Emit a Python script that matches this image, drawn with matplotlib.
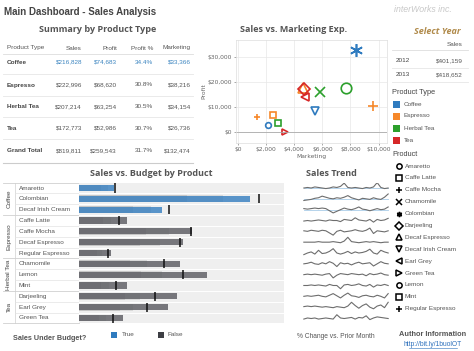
import numpy as np
import matplotlib
matplotlib.use('Agg')
import matplotlib.pyplot as plt
from matplotlib.ticker import FuncFormatter

W, H = 474, 351

# summary table
product_types = ['Coffee', 'Espresso', 'Herbal Tea', 'Tea']
type_sales = [216828, 222996, 207214, 172773]
type_profit = [74683, 68620, 63254, 52986]
type_profit_pct = [34.4, 30.8, 30.5, 30.7]
type_marketing = [33366, 38216, 34154, 26736]
total_row = [819811, 259543, 31.7, 132474]

years = ['2012', '2013']
year_sales = [401159, 418652]

products = ['Amaretto', 'Colombian', 'Decaf Irish Cream', 'Caffe Latte', 'Caffe Mocha',
            'Decaf Espresso', 'Regular Espresso', 'Chamomile', 'Lemon', 'Mint',
            'Darjeeling', 'Earl Grey', 'Green Tea']
product_group = ['Coffee'] * 3 + ['Espresso'] * 4 + ['Herbal Tea'] * 3 + ['Tea'] * 3
sales = [26269, 128311, 62248, 35642, 84904, 78162, 24288, 75578, 95926, 35710,
         73151, 66772, 32850]
budget = [27000, 135000, 67500, 30000, 84000, 76000, 22000, 64000, 78000, 28000,
          57000, 51000, 25500]

# scatter (marketing, profit)
marketing = [2115, 8414, 5448, 2506, 9586, 4620, 1310, 5862, 7655, 2850, 4690, 4760, 3310]
profit = [2800, 32800, 8400, 6800, 10400, 17600, 5870, 16000, 17700, 3700, 17200, 14100, -100]

# sales trend, % change vs prior month (rough reading)
trend = [
    [0, .1, 0, .2, .1, 0, -.1, 0, .2, .1, .3, .9, .1, 0, .1, 0, -.1, .1, 0, .2, 1., .1, -.1, 0],
    [-.3, -.2, -.1, .1, .2, .5, .3, .1, 0, .2, .1, .3, .6, .2, 0, -.2, .1, 0, -.1, .2, 0, -.1, .3, .9],
    [.2, .1, .2, .3, .2, .3, .2, -.2, -.6, -.3, 0, .3, .1, 0, .2, .5, .1, 0, -.2, 0, .2, 0, .1, .5],
    [-.1, 0, -.1, 0, .1, 0, -.1, .1, 0, 0, -.2, .2, .1, 0, .5, .1, 0, -.1, .2, -.3, .2, 0, .1, .4],
    [.1, 0, .2, .1, 0, .2, .1, -.3, -.7, 0, .2, -.1, 0, .1, .3, .1, 0, .2, .6, -.4, .1, 0, -.1, .1],
    [0, 0, 0, 0, .1, 0, 0, 0, .1, 0, -.1, .2, .9, .1, 0, -.1, 0, .1, 0, .1, 0, -.1, 0, 0],
    [-.3, 0, .2, -.2, .5, -.1, 0, .3, .8, 0, -.2, 0, .3, -.1, .2, 0, .1, .3, .7, 0, -.2, .5, .2, 0],
    [0, .1, .3, 0, -.1, .2, 0, .4, .1, -.5, .2, 0, .1, -.2, .1, .3, 0, .1, .2, -.4, 0, .4, .1, 0],
    [0, .1, 0, .1, 0, -.1, .1, .2, -.6, -.1, .2, .1, 0, .2, .1, 0, .1, -.2, .2, 0, .1, .3, 0, -.1],
    [0, 0, .1, 0, .1, 0, -.1, .2, 0, 0, -.6, .1, .2, 0, .1, .3, 0, -.1, .2, -.3, .1, 0, .2, 0],
    [0, .1, 0, .1, .2, 0, -.1, .2, .5, .1, -.3, .2, .6, .1, 0, -.2, .1, .2, 0, -.1, .2, 0, -.3, .5],
    [.1, .2, .1, .2, .1, 0, .1, 0, -.1, .1, 0, -.1, .2, .9, .3, -.2, .3, .6, 0, -.3, .2, .4, -.1, .9],
    [-.2, 0, -.1, 0, -.2, -.1, 0, -.1, -.2, .6, 0, -.1, 0, .1, -.2, .1, 0, .4, -.3, 0, .2, .1, 0, -.1],
]

type_colors = {'Coffee': '#2f7bbf', 'Espresso': '#f6882a', 'Herbal Tea': '#2ca02c', 'Tea': '#d62728'}
shapes = {'Amaretto': 'o', 'Caffe Latte': 's', 'Caffe Mocha': '+', 'Chamomile': 'x',
          'Colombian': (6, 2, 0), 'Darjeeling': 'D', 'Decaf Espresso': '^',
          'Decaf Irish Cream': 'v', 'Earl Grey': '<', 'Green Tea': '>', 'Lemon': 'o',
          'Mint': 's', 'Regular Espresso': '+'}

FONT = 'Liberation Sans'
TFONT = 'Open Sans'
GREY = '#555555'


def money(v):
    return '${:,.0f}'.format(v)


def px_axes(fig, x, y, w, h):
    return fig.add_axes([x / W, 1 - (y + h) / H, w / W, h / H])


fig = plt.figure(figsize=(W / 100, H / 100), dpi=100)
fig.patch.set_facecolor('white')

ov = fig.add_axes([0, 0, 1, 1])
ov.set_xlim(0, W)
ov.set_ylim(H, 0)
ov.axis('off')

# titles
ov.text(4, 12, 'Main Dashboard - Sales Analysis', fontsize=7, fontweight='bold',
        color='#444444', family=FONT, va='center')
ov.text(98, 30, 'Summary by Product Type', fontsize=6.5, fontweight='bold',
        color=GREY, family=TFONT, ha='center', va='center')
ov.text(240, 30, 'Sales vs. Marketing Exp.', fontsize=6.5, fontweight='bold',
        color=GREY, family=TFONT, va='center')
ov.text(151, 173, 'Sales vs. Budget by Product', fontsize=6.5, fontweight='bold',
        color=GREY, family=TFONT, ha='center', va='center')
ov.text(331, 173, 'Sales Trend', fontsize=6.5, fontweight='bold',
        color=GREY, family=TFONT, ha='center', va='center')
ov.text(423, 10, 'interWorks inc.', fontsize=6.3, style='italic', color='#c8c8c8',
        family=FONT, ha='center', va='center')

# summary table
col_right = [82, 117, 153, 191]
headers = ['Sales', 'Profit', 'Profit %', 'Marketing']
ov.text(7, 48, 'Product Type', fontsize=4.6, color=GREY, family=FONT, va='center')
for xr, hd in zip(col_right, headers):
    ov.text(xr, 48, hd, fontsize=4.6, color=GREY, family=FONT, ha='right', va='center')
row_y = [62, 85, 107, 128]
for yy in [74, 96, 117, 139]:
    ov.plot([3, 193], [yy, yy], color='#e6e6e6', lw=0.6)
ov.plot([3, 193], [54, 54], color='#dddddd', lw=0.6)
ov.plot([3, 193], [163, 163], color='#cccccc', lw=0.8)
for i, pt in enumerate(product_types):
    c = '#3c85c0' if pt == 'Coffee' else GREY
    vals = [money(type_sales[i]), money(type_profit[i]), '{:.1f}%'.format(type_profit_pct[i]),
            money(type_marketing[i])]
    ov.text(7, row_y[i], pt, fontsize=4.6, color='#444444', family=FONT,
            fontweight='bold', va='center')
    for xr, v in zip(col_right, vals):
        ov.text(xr, row_y[i], v, fontsize=4.6, color=c, family=FONT, ha='right', va='center')
tot = [money(total_row[0]), money(total_row[1]), '{:.1f}%'.format(total_row[2]), money(total_row[3])]
ov.text(7, 151, 'Grand Total', fontsize=4.6, color='#444444', family=FONT,
        fontweight='bold', va='center')
for xr, v in zip(col_right, tot):
    ov.text(xr, 151, v, fontsize=4.6, color=GREY, family=FONT, ha='right', va='center')

# scatter
ax = px_axes(fig, 236, 40, 151, 103)
for i, p in enumerate(products):
    col = type_colors[product_group[i]]
    ms = 2.8 + sales[i] / 20000
    ax.plot(marketing[i], profit[i], marker=shapes[p], linestyle='none', markersize=ms,
            markerfacecolor='none', markeredgecolor=col, markeredgewidth=1.2, color=col)
ax.set_xlim(-150, 10600)
ax.set_ylim(-4400, 36800)
ax.set_xticks([0, 2000, 4000, 6000, 8000, 10000])
ax.set_yticks([0, 10000, 20000, 30000])
ax.xaxis.set_major_formatter(FuncFormatter(lambda v, p: money(v)))
ax.yaxis.set_major_formatter(FuncFormatter(lambda v, p: money(v)))
ax.tick_params(labelsize=4.3, colors='#666666', length=1.5, width=0.4, pad=1.5)
ax.grid(color='#e8e8e8', lw=0.5)
ax.axhline(0, color='#aaaaaa', lw=0.6)
ax.set_axisbelow(True)
for s in ax.spines.values():
    s.set_color('#dddddd')
    s.set_linewidth(0.5)
ax.set_xlabel('Marketing', fontsize=4.3, color='#666666', labelpad=1)
ax.set_ylabel('Profit', fontsize=4.3, color='#666666', labelpad=1)

# right panel
ov.text(437, 31, 'Select Year', fontsize=6.5, fontweight='bold', style='italic',
        color='#b08a4a', family=TFONT, ha='center', va='center')
ov.text(463, 44, 'Sales', fontsize=4.6, color=GREY, family=FONT, ha='right', va='center')
ov.plot([392, 468], [50, 50], color='#dddddd', lw=0.6)
ov.plot([392, 468], [68, 68], color='#e6e6e6', lw=0.6)
ov.plot([392, 468], [82, 82], color='#e6e6e6', lw=0.6)
for yy, yr, sv in zip([61, 75], years, year_sales):
    ov.text(396, yy, yr, fontsize=4.6, color='#444444', family=FONT, va='center')
    ov.text(463, yy, money(sv), fontsize=4.6, color=GREY, family=FONT, ha='right', va='center')

ov.text(392, 92, 'Product Type', fontsize=5.3, color='#444444', family=FONT, va='center')
for k, pt in enumerate(product_types):
    yy = 104 + k * 12
    ov.add_patch(plt.Rectangle((393, yy - 3.5), 7, 7, color=type_colors[pt], lw=0))
    ov.text(404, yy, pt, fontsize=4.6, color='#555555', family=FONT, va='center')

ov.text(392, 155, 'Product', fontsize=5.3, color='#444444', family=FONT, va='center')
for k, p in enumerate(sorted(products)):
    yy = 166 + k * 11.9
    ov.plot(399, yy, marker=shapes[p], markersize=3.8, markerfacecolor='none',
            markeredgecolor='black', markeredgewidth=1.1, color='black', linestyle='none')
    ov.text(405, yy, p, fontsize=4.6, color='#555555', family=FONT, va='center')

ov.text(433, 334, 'Author Information', fontsize=5.3, fontweight='bold', color=GREY,
        family=FONT, ha='center', va='center')
ov.text(433, 344, 'http://bit.ly/1buolOT', fontsize=4.8, color='#2a6ebb', family=FONT,
        ha='center', va='center')
ov.plot([409, 457], [347.5, 347.5], color='#2a6ebb', lw=0.4)

# bullet chart
top, bot = 182.6, 323.4
n = len(products)
rowh = (bot - top) / n
ab = px_axes(fig, 79, top, 205, bot - top)
ab.set_facecolor('#efefef')
idx = np.arange(n)
ab.barh(idx, [b * 0.8 for b in budget], height=0.64, color='#d9d9d9', lw=0)
ab.barh(idx, [b * 0.6 for b in budget], height=0.64, color='#c6c6c6', lw=0)
bar_cols = ['#2f7bbf' if s < b else '#55565c' for s, b in zip(sales, budget)]
ab.barh(idx, sales, height=0.58, color=bar_cols, alpha=0.78, lw=0)
ab.vlines(budget, idx - 0.42, idx + 0.42, color='#111111', lw=1.1)
for k in range(n - 1):
    ab.axhline(k + 0.5, color='white', lw=0.7)
ab.set_xlim(0, 153750)
ab.set_ylim(n - 0.5, -0.5)
ab.set_xticks([])
ab.set_yticks([])
for s in ab.spines.values():
    s.set_visible(False)

# label column of the bullet chart
groups = ['Coffee', 'Espresso', 'Herbal Tea', 'Tea']
start = 0
for g in groups:
    cnt = product_group.count(g)
    y0 = top + start * rowh
    y1 = top + (start + cnt) * rowh
    ov.text(9, (y0 + y1) / 2, g, fontsize=4.6, color='#444444', family=FONT,
            rotation=90, ha='center', va='center')
    ov.plot([3, 79], [y1, y1], color='#d0d0d0', lw=0.6)
    start += cnt
ov.plot([3, 79], [top, top], color='#d0d0d0', lw=0.6)
ov.plot([15, 15], [top, bot], color='#d0d0d0', lw=0.5)
for k, p in enumerate(products):
    yc = top + (k + 0.5) * rowh
    ov.text(19, yc, p, fontsize=4.6, color='#555555', family=FONT, va='center')
    if k < n - 1 and product_group[k] == product_group[k + 1]:
        ov.plot([15, 79], [yc + rowh / 2] * 2, color='#e3e3e3', lw=0.5)

# sales trend sparklines
at = px_axes(fig, 302, top, 88, bot - top)
at.axis('off')
for k, series in enumerate(trend):
    xs = np.arange(len(series))
    if product_group[k] == 'Coffee':
        at.plot([0, len(series) - 1], [k, k], color='#a9cce8', lw=0.6)
    at.plot(xs, [k - v * 0.5 for v in series], color='#6d6d6d', lw=0.8)
at.set_xlim(-0.5, len(trend[0]) - 0.5)
at.set_ylim(n - 0.5, -0.5)
ov.text(336, 337, '% Change vs. Prior Month', fontsize=4.8, color=GREY, family=FONT,
        ha='center', va='center')

# legend for bullet bars
ov.text(13, 339, 'Sales Under Budget?', fontsize=5.2, fontweight='bold', color=GREY,
        family=FONT, va='center')
ov.add_patch(plt.Rectangle((111, 332), 6, 6, color='#2f7bbf', lw=0))
ov.text(122, 335, 'True', fontsize=4.6, color='#555555', family=FONT, va='center')
ov.add_patch(plt.Rectangle((158, 332), 6, 6, color='#3d3e44', lw=0))
ov.text(168, 335, 'False', fontsize=4.6, color='#555555', family=FONT, va='center')

fig.savefig('out.png', dpi=100)
